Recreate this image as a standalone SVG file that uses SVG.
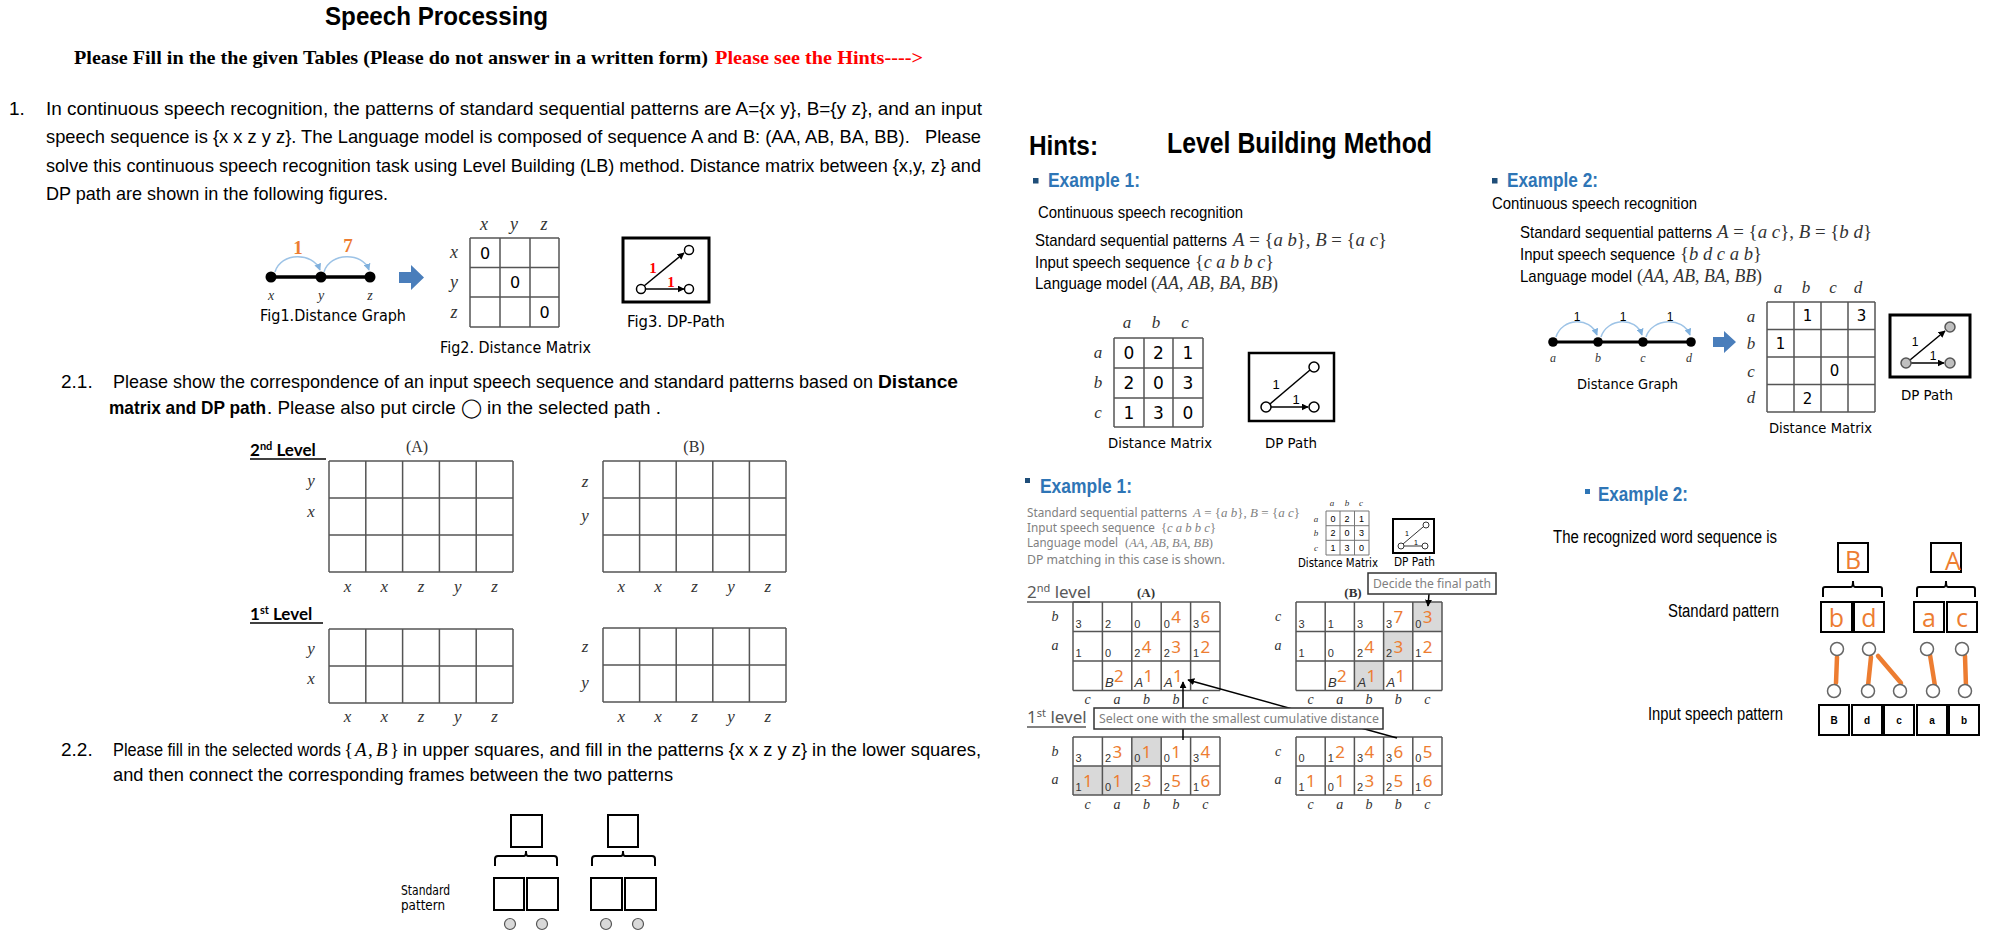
<svg xmlns="http://www.w3.org/2000/svg" width="2000" height="939" viewBox="0 0 2000 939">
<defs>
<style>
.n{font-family:"Liberation Sans",Arial,sans-serif;fill:#000}
.t{font-family:"Liberation Serif","Times New Roman",serif}
.m{font-family:"Liberation Serif","Times New Roman",serif;font-style:italic}
.v{font-family:"DejaVu Sans",Verdana,sans-serif;fill:#000}
.g{fill:none;stroke:#555;stroke-width:1.5}
.gk{fill:none;stroke:#000;stroke-width:2}
.bl{fill:#2E75B6;font-family:"Liberation Sans",Arial,sans-serif;font-weight:bold;font-size:21px}
.gr{fill:#7f7f7f;font-family:"Noto Sans",sans-serif;font-size:13px}
.sd{font-family:"Liberation Sans",Arial,sans-serif;font-size:11px;fill:#333}
.od{font-family:"Noto Sans",sans-serif;font-size:17px;fill:#ED7D31}
.il{font-family:"Liberation Sans",Arial,sans-serif;font-style:italic;font-size:13px;fill:#333}
.rl{font-family:"Liberation Serif",serif;font-style:italic;font-size:14px;fill:#333}
.cl{font-family:"Liberation Serif",serif;font-style:italic;font-size:17px;fill:#333}
.ol{font-family:"Open Sans",sans-serif;font-size:25px;fill:#ED7D31}
.hl{fill:#d9d9d9}
.c1{fill:#fff;stroke:#000;stroke-width:1.5}
.c2{fill:#fff;stroke:#666;stroke-width:1.5}
.c3{fill:#bfbfbf;stroke:#555;stroke-width:1.5}
.c4{fill:#d9d9d9;stroke:#555;stroke-width:1.2}
.ln{stroke:#000;stroke-width:1.5;fill:none}
.or{stroke:#ED7D31;stroke-width:4.5;stroke-linecap:round}
.arc{fill:none;stroke:#9DC3E6;stroke-width:1.5}
.ba{fill:#4A7EBB}
</style>
<marker id="ak" viewBox="0 0 10 10" refX="9" refY="5" markerWidth="7" markerHeight="7" markerUnits="userSpaceOnUse" orient="auto"><path d="M0,0L10,5L0,10z" fill="#000"/></marker>
<marker id="ab" viewBox="0 0 10 10" refX="9" refY="5" markerWidth="7" markerHeight="7" markerUnits="userSpaceOnUse" orient="auto"><path d="M0,0L10,5L0,10z" fill="#7FB0DD"/></marker>
</defs>
<rect width="2000" height="939" fill="#fff"/>

<!-- ===== LEFT: question ===== -->
<g id="header">
<text class="n" x="325" y="25" font-size="26" font-weight="bold" textLength="223" lengthAdjust="spacingAndGlyphs">Speech Processing</text>
<text class="t" x="74" y="64" font-size="19" font-weight="bold" textLength="634" lengthAdjust="spacingAndGlyphs">Please Fill in the the given Tables  (Please do not answer in a written form)</text>
<text class="t" x="715" y="64" font-size="19" font-weight="bold" fill="#FF0000" textLength="208" lengthAdjust="spacingAndGlyphs">Please see the Hints----&gt;</text>
</g>

<g id="q1" class="n" font-size="19">
<text x="9" y="115">1.</text>
<text x="46" y="115" textLength="936" lengthAdjust="spacingAndGlyphs">In continuous speech recognition, the patterns of standard sequential patterns are A={x y}, B={y z}, and an input</text>
<text x="46" y="143" textLength="935" lengthAdjust="spacingAndGlyphs" xml:space="preserve">speech sequence is {x x z y z}. The Language model is composed of sequence A and B: (AA, AB, BA, BB).   Please</text>
<text x="46" y="172" textLength="935" lengthAdjust="spacingAndGlyphs">solve this continuous speech recognition task using Level Building (LB) method. Distance matrix between {x,y, z} and</text>
<text x="46" y="200" textLength="342" lengthAdjust="spacingAndGlyphs">DP path are shown in the following figures.</text>
</g>

<g id="fig1">
<path class="arc" d="M275,272 C281,252 313,252 320,270" marker-end="url(#ab)"/>
<path class="arc" d="M324,272 C330,252 363,252 369,270" marker-end="url(#ab)"/>
<line x1="271" y1="277" x2="370" y2="277" stroke="#000" stroke-width="3.5"/>
<circle cx="271" cy="277" r="5.5" fill="#000"/>
<circle cx="321" cy="277" r="5.5" fill="#000"/>
<circle cx="370" cy="277" r="5.5" fill="#000"/>
<text class="t" x="298" y="254" font-size="19" font-weight="bold" fill="#ED7D31" text-anchor="middle">1</text>
<text class="t" x="348" y="252" font-size="19" font-weight="bold" fill="#ED7D31" text-anchor="middle">7</text>
<g class="m" font-size="14" fill="#333" text-anchor="middle"><text x="271" y="300">x</text><text x="321" y="300">y</text><text x="370" y="300">z</text></g>
<text class="v" x="260" y="321" font-size="15" fill="#333" textLength="146" lengthAdjust="spacingAndGlyphs">Fig1.Distance Graph</text>
</g>

<polygon id="arrow1" class="ba" points="399,272 411,272 411,265 424,277.5 411,290 411,283 399,283"/>

<g id="fig2">
<path class="g" d="M470,238H559M470,267.5H559M470,297H559M470,327H559M470,238V327M500,238V327M530,238V327M559,238V327"/>
<g class="m" font-size="18" fill="#333" text-anchor="middle"><text x="484" y="230">x</text><text x="514" y="230">y</text><text x="544" y="230">z</text>
<text x="454" y="258">x</text><text x="454" y="288">y</text><text x="454" y="318">z</text></g>
<g class="v" font-size="16" fill="#333" text-anchor="middle"><text x="485" y="259">0</text><text x="515" y="288">0</text><text x="544.5" y="318">0</text></g>
<text class="v" x="440" y="353" font-size="15" fill="#333" textLength="151" lengthAdjust="spacingAndGlyphs">Fig2. Distance Matrix</text>
</g>

<g id="fig3">
<rect x="623" y="238" width="86" height="64" fill="none" stroke="#000" stroke-width="3"/>
<line class="ln" x1="644" y1="286" x2="684" y2="253" marker-end="url(#ak)"/>
<line class="ln" x1="645.5" y1="289" x2="684" y2="289" marker-end="url(#ak)"/>
<circle class="c1" cx="689" cy="250" r="4.5"/>
<circle class="c1" cx="641" cy="289" r="4.5"/>
<circle class="c1" cx="689" cy="289" r="4.5"/>
<text class="t" x="653" y="273" font-size="15" font-weight="bold" fill="#FF0000" text-anchor="middle">1</text>
<text class="t" x="671" y="287" font-size="15" font-weight="bold" fill="#FF0000" text-anchor="middle">1</text>
<text class="v" x="627" y="327" font-size="15" fill="#333" textLength="98" lengthAdjust="spacingAndGlyphs">Fig3. DP-Path</text>
</g>

<g id="q21" class="n" font-size="19">
<text x="61" y="388">2.1.</text>
<text x="113" y="388" textLength="760" lengthAdjust="spacingAndGlyphs">Please show the correspondence of an input speech sequence and standard patterns based on</text>
<text x="878" y="388" font-weight="bold" textLength="80" lengthAdjust="spacingAndGlyphs">Distance</text>
<text x="109" y="414" font-weight="bold" textLength="157" lengthAdjust="spacingAndGlyphs">matrix and DP path</text>
<text x="267" y="414" textLength="394" lengthAdjust="spacingAndGlyphs">. Please also put circle ◯ in the selected path .</text>
</g>

<g id="labels21">
<text x="250" y="456" font-family="Lato,'Liberation Sans',sans-serif" font-weight="bold" font-size="17">2<tspan font-size="11" dy="-6">nd</tspan><tspan dy="6"> Level</tspan></text>
<line x1="250" y1="459" x2="326" y2="459" stroke="#000" stroke-width="1.3"/>
<text x="250" y="620" font-family="Lato,'Liberation Sans',sans-serif" font-weight="bold" font-size="17">1<tspan font-size="11" dy="-6">st</tspan><tspan dy="6"> Level</tspan></text>
<line x1="250" y1="623" x2="323" y2="623" stroke="#000" stroke-width="1.3"/>
<text class="t" x="417" y="452" font-size="16" text-anchor="middle" fill="#333">(A)</text>
<text class="t" x="694" y="452" font-size="16" text-anchor="middle" fill="#333">(B)</text>
</g>

<g id="tableA2">
<path class="g" d="M329,461H513M329,498H513M329,535H513M329,572H513M329,461V572M365.8,461V572M402.6,461V572M439.4,461V572M476.2,461V572M513,461V572"/>
<g class="cl" text-anchor="middle"><text x="311" y="486">y</text><text x="311" y="517">x</text>
<text x="347.4" y="592">x</text><text x="384.2" y="592">x</text><text x="421" y="592">z</text><text x="457.8" y="592">y</text><text x="494.6" y="592">z</text></g>
</g>
<g id="tableB2">
<path class="g" d="M603,461H786M603,498H786M603,535H786M603,572H786M603,461V572M639.6,461V572M676.2,461V572M712.8,461V572M749.4,461V572M786,461V572"/>
<g class="cl" text-anchor="middle"><text x="585" y="487">z</text><text x="585" y="521">y</text>
<text x="621.3" y="592">x</text><text x="657.9" y="592">x</text><text x="694.5" y="592">z</text><text x="731.1" y="592">y</text><text x="767.7" y="592">z</text></g>
</g>
<g id="tableA1">
<path class="g" d="M329,629H513M329,666H513M329,703H513M329,629V703M365.8,629V703M402.6,629V703M439.4,629V703M476.2,629V703M513,629V703"/>
<g class="cl" text-anchor="middle"><text x="311" y="654">y</text><text x="311" y="684">x</text>
<text x="347.4" y="722">x</text><text x="384.2" y="722">x</text><text x="421" y="722">z</text><text x="457.8" y="722">y</text><text x="494.6" y="722">z</text></g>
</g>
<g id="tableB1">
<path class="g" d="M603,628H786M603,665H786M603,702H786M603,628V702M639.6,628V702M676.2,628V702M712.8,628V702M749.4,628V702M786,628V702"/>
<g class="cl" text-anchor="middle"><text x="585" y="652">z</text><text x="585" y="688">y</text>
<text x="621.3" y="722">x</text><text x="657.9" y="722">x</text><text x="694.5" y="722">z</text><text x="731.1" y="722">y</text><text x="767.7" y="722">z</text></g>
</g>

<g id="q22" class="n" font-size="19">
<text x="61" y="756">2.2.</text>
<text x="113" y="756" textLength="228" lengthAdjust="spacingAndGlyphs">Please fill in the selected words</text>
<text class="t" x="344" y="756">{</text>
<text class="m" x="355" y="756">A</text>
<text class="t" x="368" y="756">,</text>
<text class="m" x="376" y="756">B</text>
<text class="t" x="390" y="756">}</text>
<text x="403" y="756" textLength="578" lengthAdjust="spacingAndGlyphs">in upper squares, and fill in the patterns {x x z y z} in the lower squares,</text>
<text x="113" y="781" textLength="560" lengthAdjust="spacingAndGlyphs">and then connect the corresponding frames between the two patterns</text>
</g>

<g id="answer-diagram">
<rect class="gk" x="511" y="815" width="31" height="32"/>
<rect class="gk" x="608" y="815" width="30" height="32"/>
<path class="gk" stroke-width="1.8" d="M495,866V859Q495,856 498,856H524Q526,856 526,851Q526,856 528,856H554Q557,856 557,859V866"/>
<path class="gk" stroke-width="1.8" d="M592,866V859Q592,856 595,856H621Q623,856 623,851Q623,856 625,856H652Q655,856 655,859V866"/>
<rect class="gk" x="494" y="878" width="30" height="32"/>
<rect class="gk" x="527" y="878" width="31" height="32"/>
<rect class="gk" x="591" y="878" width="31" height="32"/>
<rect class="gk" x="625" y="878" width="31" height="32"/>
<circle class="c4" cx="510" cy="924" r="5.5"/>
<circle class="c4" cx="542" cy="924" r="5.5"/>
<circle class="c4" cx="606" cy="924" r="5.5"/>
<circle class="c4" cx="638" cy="924" r="5.5"/>
<text class="v" x="401" y="895" font-size="14" fill="#333" textLength="49" lengthAdjust="spacingAndGlyphs">Standard</text>
<text class="v" x="401" y="910" font-size="14" fill="#333" textLength="44" lengthAdjust="spacingAndGlyphs">pattern</text>
</g>

<!-- ===== RIGHT: hints ===== -->
<g id="hints-title">
<text class="n" x="1029" y="155" font-size="28" font-weight="bold" textLength="69" lengthAdjust="spacingAndGlyphs">Hints:</text>
<text class="n" x="1167" y="153" font-size="29" font-weight="bold" textLength="265" lengthAdjust="spacingAndGlyphs">Level Building Method</text>
</g>

<g id="ex1-def">
<rect x="1033" y="178" width="5.5" height="5.5" fill="#1F4E79"/>
<text class="bl" x="1048" y="187" textLength="92" lengthAdjust="spacingAndGlyphs">Example 1:</text>
<g class="n" font-size="17" fill="#333">
<text x="1038" y="218" textLength="205" lengthAdjust="spacingAndGlyphs">Continuous speech recognition</text>
<text x="1035" y="246" textLength="192" lengthAdjust="spacingAndGlyphs">Standard sequential patterns</text>
<text x="1035" y="268" textLength="155" lengthAdjust="spacingAndGlyphs">Input speech sequence</text>
<text x="1035" y="289" textLength="112" lengthAdjust="spacingAndGlyphs">Language model</text>
</g>
<g class="t" font-size="18" fill="#333">
<text x="1233" y="246" textLength="154" lengthAdjust="spacingAndGlyphs"><tspan class="m">A</tspan> = {<tspan class="m">a b</tspan>}, <tspan class="m">B</tspan> = {<tspan class="m">a c</tspan>}</text>
<text x="1195" y="268" textLength="79" lengthAdjust="spacingAndGlyphs">{<tspan class="m">c a b b c</tspan>}</text>
<text x="1151" y="289" textLength="127" lengthAdjust="spacingAndGlyphs">(<tspan class="m">AA</tspan>, <tspan class="m">AB</tspan>, <tspan class="m">BA</tspan>, <tspan class="m">BB</tspan>)</text>
</g>
</g>

<g id="ex1-matrix">
<path class="g" d="M1114,338H1203M1114,368H1203M1114,398H1203M1114,427H1203M1114,338V427M1144,338V427M1173,338V427M1203,338V427"/>
<g class="m" font-size="17" fill="#333" text-anchor="middle"><text x="1127" y="328">a</text><text x="1156" y="328">b</text><text x="1185" y="328">c</text>
<text x="1098" y="358">a</text><text x="1098" y="388">b</text><text x="1098" y="418">c</text></g>
<g class="v" font-size="17" fill="#333" text-anchor="middle">
<text x="1129" y="359">0</text><text x="1158.5" y="359">2</text><text x="1188" y="359">1</text>
<text x="1129" y="389">2</text><text x="1158.5" y="389">0</text><text x="1188" y="389">3</text>
<text x="1129" y="419">1</text><text x="1158.5" y="419">3</text><text x="1188" y="419">0</text></g>
<text class="v" x="1108" y="448" font-size="14" fill="#333" textLength="104" lengthAdjust="spacingAndGlyphs">Distance Matrix</text>
</g>

<g id="ex1-dp">
<rect x="1249" y="353" width="85" height="68" fill="none" stroke="#000" stroke-width="2.5"/>
<line class="ln" x1="1270" y1="404" x2="1310" y2="370"/>
<line class="ln" x1="1271" y1="407" x2="1308" y2="407" marker-end="url(#ak)"/>
<circle class="c1" cx="1314" cy="367" r="5"/>
<circle class="c1" cx="1266" cy="407" r="5"/>
<circle class="c1" cx="1314" cy="407" r="5"/>
<text class="n" x="1276" y="389" font-size="13" fill="#333" text-anchor="middle">1</text>
<text class="n" x="1296" y="404" font-size="13" fill="#333" text-anchor="middle">1</text>
<text class="v" x="1265" y="448" font-size="14" fill="#333" textLength="52" lengthAdjust="spacingAndGlyphs">DP Path</text>
</g>

<g id="ex2-def">
<rect x="1492" y="178" width="5.5" height="5.5" fill="#1F4E79"/>
<text class="bl" x="1507" y="187" textLength="91" lengthAdjust="spacingAndGlyphs">Example 2:</text>
<g class="n" font-size="17" fill="#333">
<text x="1492" y="209" textLength="205" lengthAdjust="spacingAndGlyphs">Continuous speech recognition</text>
<text x="1520" y="238" textLength="192" lengthAdjust="spacingAndGlyphs">Standard sequential patterns</text>
<text x="1520" y="260" textLength="155" lengthAdjust="spacingAndGlyphs">Input speech sequence</text>
<text x="1520" y="282" textLength="112" lengthAdjust="spacingAndGlyphs">Language model</text>
</g>
<g class="t" font-size="18" fill="#333">
<text x="1717" y="238" textLength="155" lengthAdjust="spacingAndGlyphs"><tspan class="m">A</tspan> = {<tspan class="m">a c</tspan>}, <tspan class="m">B</tspan> = {<tspan class="m">b d</tspan>}</text>
<text x="1680" y="260" textLength="82" lengthAdjust="spacingAndGlyphs">{<tspan class="m">b d c a b</tspan>}</text>
<text x="1637" y="282" textLength="125" lengthAdjust="spacingAndGlyphs">(<tspan class="m">AA</tspan>, <tspan class="m">AB</tspan>, <tspan class="m">BA</tspan>, <tspan class="m">BB</tspan>)</text>
</g>
</g>

<g id="ex2-graph">
<path class="arc" d="M1556,337 C1562,318 1590,316 1597,335" marker-end="url(#ab)"/>
<path class="arc" d="M1601,337 C1607,318 1636,316 1642,335" marker-end="url(#ab)"/>
<path class="arc" d="M1646,337 C1652,318 1683,316 1690,335" marker-end="url(#ab)"/>
<line x1="1553" y1="342" x2="1691" y2="342" stroke="#000" stroke-width="3"/>
<circle cx="1553" cy="342" r="4.8" fill="#000"/>
<circle cx="1598" cy="342" r="4.8" fill="#000"/>
<circle cx="1643" cy="342" r="4.8" fill="#000"/>
<circle cx="1691" cy="342" r="4.8" fill="#000"/>
<g class="n" font-size="12" fill="#333" text-anchor="middle"><text x="1577" y="321">1</text><text x="1623" y="321">1</text><text x="1670" y="321">1</text></g>
<g class="m" font-size="12" fill="#333" text-anchor="middle"><text x="1553" y="362">a</text><text x="1598" y="362">b</text><text x="1643" y="362">c</text><text x="1689" y="362">d</text></g>
<text class="v" x="1577" y="389" font-size="14" fill="#333" textLength="101" lengthAdjust="spacingAndGlyphs">Distance Graph</text>
</g>

<polygon id="arrow2" class="ba" points="1713,337 1724,337 1724,331 1736,342 1724,353 1724,347 1713,347"/>

<g id="ex2-matrix">
<path class="g" d="M1767,302H1875M1767,329.5H1875M1767,357H1875M1767,384.5H1875M1767,412H1875M1767,302V412M1794,302V412M1821,302V412M1848,302V412M1875,302V412"/>
<g class="m" font-size="17" fill="#333" text-anchor="middle"><text x="1778" y="293">a</text><text x="1806" y="293">b</text><text x="1833" y="293">c</text><text x="1858" y="293">d</text>
<text x="1751" y="322">a</text><text x="1751" y="349">b</text><text x="1751" y="377">c</text><text x="1751" y="403">d</text></g>
<g class="v" font-size="15" fill="#333" text-anchor="middle">
<text x="1807.5" y="321">1</text><text x="1861.5" y="321">3</text>
<text x="1780.5" y="349">1</text>
<text x="1834.5" y="376">0</text>
<text x="1807.5" y="404">2</text></g>
<text class="v" x="1769" y="433" font-size="14" fill="#333" textLength="103" lengthAdjust="spacingAndGlyphs">Distance Matrix</text>
</g>

<g id="ex2-dp">
<rect x="1890" y="315" width="80" height="62" fill="none" stroke="#000" stroke-width="3"/>
<line class="ln" x1="1910" y1="360" x2="1945" y2="331" marker-end="url(#ak)"/>
<line class="ln" x1="1911" y1="363" x2="1944" y2="363" marker-end="url(#ak)"/>
<circle class="c3" cx="1950" cy="327" r="5"/>
<circle class="c3" cx="1906" cy="363" r="5"/>
<circle class="c3" cx="1950" cy="363" r="5"/>
<text class="n" x="1915" y="346" font-size="12" fill="#333" text-anchor="middle">1</text>
<text class="n" x="1933" y="360" font-size="12" fill="#333" text-anchor="middle">1</text>
<text class="v" x="1901" y="400" font-size="14" fill="#333" textLength="52" lengthAdjust="spacingAndGlyphs">DP Path</text>
</g>

<g id="ex1-detail">
<rect x="1025" y="478" width="5" height="5" fill="#1F4E79"/>
<text class="bl" x="1040" y="493" textLength="92" lengthAdjust="spacingAndGlyphs">Example 1:</text>
<text class="gr" x="1027" y="517" textLength="160" lengthAdjust="spacingAndGlyphs">Standard sequential patterns</text>
<text class="gr" x="1027" y="532" textLength="128" lengthAdjust="spacingAndGlyphs">Input speech sequence</text>
<text class="gr" x="1027" y="547" textLength="91" lengthAdjust="spacingAndGlyphs">Language model</text>
<text class="gr" x="1027" y="564" textLength="198" lengthAdjust="spacingAndGlyphs">DP matching in this case is shown.</text>
<g class="t" font-size="13" fill="#7f7f7f">
<text x="1193" y="517" textLength="107" lengthAdjust="spacingAndGlyphs"><tspan class="m">A</tspan> = {<tspan class="m">a b</tspan>}, <tspan class="m">B</tspan> = {<tspan class="m">a c</tspan>}</text>
<text x="1161" y="532" textLength="55" lengthAdjust="spacingAndGlyphs">{<tspan class="m">c a b b c</tspan>}</text>
<text x="1125" y="547" textLength="88" lengthAdjust="spacingAndGlyphs">(<tspan class="m">AA</tspan>, <tspan class="m">AB</tspan>, <tspan class="m">BA</tspan>, <tspan class="m">BB</tspan>)</text>
</g>
</g>

<g id="ex1-small-matrix">
<path fill="none" stroke="#777" stroke-width="1" d="M1326,511H1369M1326,525.7H1369M1326,540.3H1369M1326,555H1369M1326,511V555M1340,511V555M1354.5,511V555M1369,511V555"/>
<g class="m" font-size="9" fill="#333" text-anchor="middle"><text x="1332" y="506">a</text><text x="1347" y="506">b</text><text x="1361" y="506">c</text>
<text x="1316" y="522">a</text><text x="1316" y="536">b</text><text x="1316" y="551">c</text></g>
<g class="n" font-size="9" fill="#333" text-anchor="middle">
<text x="1333" y="522">0</text><text x="1347" y="522">2</text><text x="1361.5" y="522">1</text>
<text x="1333" y="536">2</text><text x="1347" y="536">0</text><text x="1361.5" y="536">3</text>
<text x="1333" y="551">1</text><text x="1347" y="551">3</text><text x="1361.5" y="551">0</text></g>
<text class="v" x="1298" y="567" font-size="12" fill="#333" textLength="80" lengthAdjust="spacingAndGlyphs">Distance Matrix</text>
<rect x="1393" y="519" width="41" height="34" fill="none" stroke="#000" stroke-width="2"/>
<line x1="1403" y1="544" x2="1423" y2="527" stroke="#333" stroke-width="1"/>
<line x1="1404" y1="546" x2="1422" y2="546" stroke="#333" stroke-width="1"/>
<circle cx="1426" cy="525" r="3" fill="#fff" stroke="#333"/>
<circle cx="1401" cy="546" r="3" fill="#fff" stroke="#333"/>
<circle cx="1425" cy="546" r="3" fill="#fff" stroke="#333"/>
<text class="n" x="1405" y="536" font-size="7" fill="#333">1</text>
<text class="n" x="1414" y="545" font-size="7" fill="#333">1</text>
<text class="v" x="1394" y="566" font-size="12" fill="#333" textLength="41" lengthAdjust="spacingAndGlyphs">DP Path</text>
</g>

<g id="ex1-level-labels">
<text x="1027" y="598" font-family="'Noto Sans',sans-serif" font-size="17" fill="#595959">2<tspan font-size="11" dy="-6">nd</tspan><tspan dy="6"> level</tspan></text>
<line x1="1027" y1="602" x2="1090" y2="602" stroke="#595959" stroke-width="1.3"/>
<text x="1027" y="723" font-family="'Noto Sans',sans-serif" font-size="17" fill="#595959">1<tspan font-size="11" dy="-6">st</tspan><tspan dy="6"> level</tspan></text>
<line x1="1027" y1="727" x2="1086" y2="727" stroke="#595959" stroke-width="1.3"/>
<text class="t" x="1146" y="597" font-size="13" font-weight="bold" fill="#333" text-anchor="middle">(A)</text>
<text class="t" x="1353" y="597" font-size="13" font-weight="bold" fill="#333" text-anchor="middle">(B)</text>
</g>

<g id="ex1-A2">
<path class="g" d="M1073,602H1220M1073,631.5H1220M1073,661H1220M1073,690.5H1220M1073,602V690.5M1102.4,602V690.5M1131.8,602V690.5M1161.2,602V690.5M1190.6,602V690.5M1220,602V690.5"/>
<g class="rl" text-anchor="middle"><text x="1055" y="621">b</text><text x="1055" y="650">a</text>
<text x="1087.7" y="704">c</text><text x="1117.1" y="704">a</text><text x="1146.5" y="704">b</text><text x="1175.9" y="704">b</text><text x="1205.3" y="704">c</text></g>
<g class="sd">
<text x="1075.5" y="627.5">3</text><text x="1104.9" y="627.5">2</text><text x="1134.3" y="627.5">0</text><text x="1163.7" y="627.5">0</text><text x="1193.1" y="627.5">3</text>
<text x="1075.5" y="657">1</text><text x="1104.9" y="657">0</text><text x="1134.3" y="657">2</text><text x="1163.7" y="657">2</text><text x="1193.1" y="657">1</text>
</g>
<g class="il"><text x="1105" y="686.5">B</text><text x="1134.5" y="686.5">A</text><text x="1164" y="686.5">A</text></g>
<g class="od">
<text x="1171.2" y="623">4</text><text x="1200.6" y="623">6</text>
<text x="1141.8" y="652.5">4</text><text x="1171.2" y="652.5">3</text><text x="1200.6" y="652.5">2</text>
<text x="1114" y="682">2</text><text x="1143.5" y="682">1</text><text x="1173" y="682">1</text>
</g>
</g>

<g id="ex1-B2">
<rect class="hl" x="1412.8" y="602" width="29.2" height="29.5"/>
<rect class="hl" x="1383.6" y="631.5" width="29.2" height="29.5"/>
<rect class="hl" x="1354.4" y="661" width="29.2" height="29.5"/>
<path class="g" d="M1296,602H1442M1296,631.5H1442M1296,661H1442M1296,690.5H1442M1296,602V690.5M1325.2,602V690.5M1354.4,602V690.5M1383.6,602V690.5M1412.8,602V690.5M1442,602V690.5"/>
<g class="rl" text-anchor="middle"><text x="1278" y="621">c</text><text x="1278" y="650">a</text>
<text x="1310.6" y="704">c</text><text x="1339.8" y="704">a</text><text x="1369" y="704">b</text><text x="1398.2" y="704">b</text><text x="1427.4" y="704">c</text></g>
<g class="sd">
<text x="1298.5" y="627.5">3</text><text x="1327.7" y="627.5">1</text><text x="1356.9" y="627.5">3</text><text x="1386.1" y="627.5">3</text><text x="1415.3" y="627.5">0</text>
<text x="1298.5" y="657">1</text><text x="1327.7" y="657">0</text><text x="1356.9" y="657">2</text><text x="1386.1" y="657">2</text><text x="1415.3" y="657">1</text>
</g>
<g class="il"><text x="1328" y="686.5">B</text><text x="1357.5" y="686.5">A</text><text x="1386.5" y="686.5">A</text></g>
<g class="od">
<text x="1393.6" y="623">7</text><text x="1422.8" y="623">3</text>
<text x="1364.4" y="652.5">4</text><text x="1393.6" y="652.5">3</text><text x="1422.8" y="652.5">2</text>
<text x="1337" y="682">2</text><text x="1366.5" y="682">1</text><text x="1395.5" y="682">1</text>
</g>
</g>

<g id="ex1-A1">
<rect class="hl" x="1131.8" y="737" width="29.4" height="29"/>
<rect class="hl" x="1073" y="766" width="29.4" height="29"/>
<rect class="hl" x="1102.4" y="766" width="29.4" height="29"/>
<path class="g" d="M1073,737H1220M1073,766H1220M1073,795H1220M1073,737V795M1102.4,737V795M1131.8,737V795M1161.2,737V795M1190.6,737V795M1220,737V795"/>
<g class="rl" text-anchor="middle"><text x="1055" y="756">b</text><text x="1055" y="784">a</text>
<text x="1087.7" y="809">c</text><text x="1117.1" y="809">a</text><text x="1146.5" y="809">b</text><text x="1175.9" y="809">b</text><text x="1205.3" y="809">c</text></g>
<g class="sd">
<text x="1075.5" y="762">3</text><text x="1104.9" y="762">2</text><text x="1134.3" y="762">0</text><text x="1163.7" y="762">0</text><text x="1193.1" y="762">3</text>
<text x="1075.5" y="791">1</text><text x="1104.9" y="791">0</text><text x="1134.3" y="791">2</text><text x="1163.7" y="791">2</text><text x="1193.1" y="791">1</text>
</g>
<g class="od">
<text x="1112.4" y="758">3</text><text x="1141.8" y="758">1</text><text x="1171.2" y="758">1</text><text x="1200.6" y="758">4</text>
<text x="1083" y="787">1</text><text x="1112.4" y="787">1</text><text x="1141.8" y="787">3</text><text x="1171.2" y="787">5</text><text x="1200.6" y="787">6</text>
</g>
</g>

<g id="ex1-B1">
<path class="g" d="M1296,737H1442M1296,766H1442M1296,795H1442M1296,737V795M1325.2,737V795M1354.4,737V795M1383.6,737V795M1412.8,737V795M1442,737V795"/>
<g class="rl" text-anchor="middle"><text x="1278" y="756">c</text><text x="1278" y="784">a</text>
<text x="1310.6" y="809">c</text><text x="1339.8" y="809">a</text><text x="1369" y="809">b</text><text x="1398.2" y="809">b</text><text x="1427.4" y="809">c</text></g>
<g class="sd">
<text x="1298.5" y="762">0</text><text x="1327.7" y="762">1</text><text x="1356.9" y="762">3</text><text x="1386.1" y="762">3</text><text x="1415.3" y="762">0</text>
<text x="1298.5" y="791">1</text><text x="1327.7" y="791">0</text><text x="1356.9" y="791">2</text><text x="1386.1" y="791">2</text><text x="1415.3" y="791">1</text>
</g>
<g class="od">
<text x="1335.2" y="758">2</text><text x="1364.4" y="758">4</text><text x="1393.6" y="758">6</text><text x="1422.8" y="758">5</text>
<text x="1306" y="787">1</text><text x="1335.2" y="787">1</text><text x="1364.4" y="787">3</text><text x="1393.6" y="787">5</text><text x="1422.8" y="787">6</text>
</g>
</g>

<g id="connectors">
<line class="ln" x1="1183" y1="740" x2="1183" y2="682" marker-end="url(#ak)"/>
<line class="ln" x1="1397" y1="738" x2="1188" y2="680" marker-end="url(#ak)"/>
<line class="ln" x1="1429" y1="594" x2="1428" y2="606" marker-end="url(#ak)"/>
<line class="or" x1="1837" y1="657" x2="1836" y2="683"/>
<line class="or" x1="1871" y1="657" x2="1868" y2="686"/>
<line class="or" x1="1878" y1="656" x2="1901" y2="683"/>
<line class="or" x1="1930" y1="655" x2="1935" y2="686"/>
<line class="or" x1="1965" y1="656" x2="1966" y2="687"/>
</g>

<g id="callout-select">
<rect x="1094" y="708" width="289" height="21" fill="#fff" stroke="#333" stroke-width="1.5"/>
<text class="gr" x="1099" y="723" font-size="12.5" textLength="280" lengthAdjust="spacingAndGlyphs">Select one with the smallest cumulative distance</text>
</g>
<g id="callout-decide">
<rect x="1368" y="573" width="128" height="21" fill="#fff" stroke="#333" stroke-width="1.5"/>
<text class="gr" x="1373" y="588" font-size="12.5" textLength="118" lengthAdjust="spacingAndGlyphs">Decide the final path</text>
</g>

<g id="ex2-detail">
<rect x="1585" y="489" width="5" height="5" fill="#2E75B6"/>
<text class="bl" x="1598" y="501" textLength="90" lengthAdjust="spacingAndGlyphs">Example 2:</text>
<text class="n" x="1553" y="543" font-size="18" textLength="224" lengthAdjust="spacingAndGlyphs">The recognized word sequence is</text>
<text class="n" x="1779" y="617" font-size="18" text-anchor="end" textLength="111" lengthAdjust="spacingAndGlyphs">Standard pattern</text>
<text class="n" x="1648" y="720" font-size="18" textLength="135" lengthAdjust="spacingAndGlyphs">Input speech pattern</text>
</g>
<g id="word-B">
<rect class="gk" x="1838" y="543" width="30" height="29"/>
<text class="ol" x="1853" y="569" text-anchor="middle">B</text>
<path class="gk" stroke-width="1.8" d="M1823,597V589Q1823,587 1825,587H1851Q1853,587 1853,581Q1853,587 1855,587H1880Q1882,587 1882,589V597"/>
</g>
<g id="word-A">
<rect class="gk" x="1931" y="543" width="30" height="29"/>
<text class="ol" x="1953" y="570" text-anchor="middle">A</text>
<path class="gk" stroke-width="1.8" d="M1917,597V589Q1917,587 1919,587H1944Q1946,587 1946,581Q1946,587 1948,587H1973Q1975,587 1975,589V597"/>
</g>
<g id="std-pattern">
<rect class="gk" x="1821" y="602" width="31" height="30"/>
<rect class="gk" x="1854" y="602" width="30" height="30"/>
<rect class="gk" x="1914" y="602" width="30" height="30"/>
<rect class="gk" x="1947" y="602" width="30" height="30"/>
<text class="ol" x="1836.5" y="627" text-anchor="middle">b</text>
<text class="ol" x="1869" y="627" text-anchor="middle">d</text>
<text class="ol" x="1929" y="627" text-anchor="middle">a</text>
<text class="ol" x="1962" y="627" text-anchor="middle">c</text>
<circle class="c2" cx="1837" cy="649" r="6.5"/>
<circle class="c2" cx="1869" cy="649" r="6.5"/>
<circle class="c2" cx="1927" cy="649" r="6.5"/>
<circle class="c2" cx="1962" cy="649" r="6.5"/>
</g>
<g id="input-pattern">
<circle class="c2" cx="1834" cy="691" r="6.5"/>
<circle class="c2" cx="1868" cy="691" r="6.5"/>
<circle class="c2" cx="1900" cy="691" r="6.5"/>
<circle class="c2" cx="1933" cy="691" r="6.5"/>
<circle class="c2" cx="1965" cy="691" r="6.5"/>
<rect class="gk" x="1819" y="705" width="30" height="30"/>
<rect class="gk" x="1852" y="705" width="30" height="30"/>
<rect class="gk" x="1884" y="705" width="30" height="30"/>
<rect class="gk" x="1917" y="705" width="30" height="30"/>
<rect class="gk" x="1949" y="705" width="30" height="30"/>
<g class="n" font-size="10" font-weight="bold" fill="#222" text-anchor="middle">
<text x="1834" y="724">B</text><text x="1867" y="724">d</text><text x="1899" y="724">c</text><text x="1932" y="724">a</text><text x="1964" y="724">b</text></g>
</g>
</svg>
